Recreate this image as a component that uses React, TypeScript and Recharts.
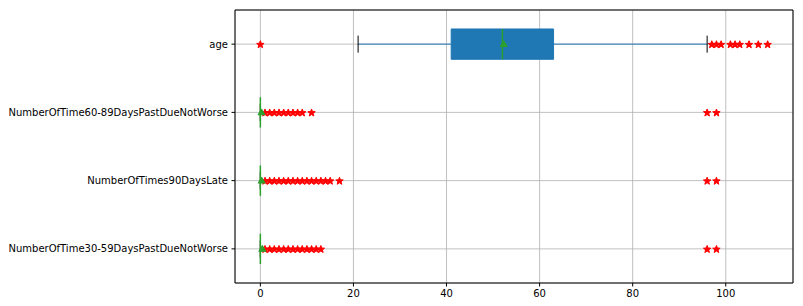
import React from "react";
import {
  ScatterChart,
  Scatter,
  XAxis,
  YAxis,
  CartesianGrid,
  ReferenceArea,
  ReferenceLine,
} from "recharts";

// bottom to top, matching the boxplot positions 1..4
const features = [
  "NumberOfTime30-59DaysPastDueNotWorse",
  "NumberOfTimes90DaysLate",
  "NumberOfTime60-89DaysPastDueNotWorse",
  "age",
];
const positions = [1, 2, 3, 4];

const q1 = [0, 0, 0, 41];
const medians = [0, 0, 0, 52];
const q3 = [0, 0, 0, 63];
const whiskerLow = [0, 0, 0, 21];
const whiskerHigh = [0, 0, 0, 96];
const means = [0.42, 0.27, 0.24, 52.3];

const outliers30to59 = [1, 2, 3, 4, 5, 6, 7, 8, 9, 10, 11, 12, 13, 96, 98];
const outliers90Late = [1, 2, 3, 4, 5, 6, 7, 8, 9, 10, 11, 12, 13, 14, 15, 17, 96, 98];
const outliers60to89 = [1, 2, 3, 4, 5, 6, 7, 8, 9, 11, 96, 98];
const outliersAge = [0, 97, 98, 99, 101, 102, 103, 105, 107, 109];
const outliers = [outliers30to59, outliers90Late, outliers60to89, outliersAge];

const xTicks = [0, 20, 40, 60, 80, 100];

const BLUE = "#1f77b4";
const GREEN = "#2ca02c";
const FONT = "DejaVu Sans";

const BOX_HALF = 0.222;
const CAP_HALF = 0.125;

const outlierPoints = outliers.flatMap((vals, i) =>
  vals.map((v) => ({ x: v, y: positions[i] }))
);
const meanPoints = means.map((m, i) => ({ x: m, y: positions[i] }));

const StarMarker = (props: any) => {
  const { cx, cy } = props;
  const outer = 3.9;
  const inner = outer * 0.42;
  const pts: string[] = [];
  for (let k = 0; k < 10; k++) {
    const r = k % 2 === 0 ? outer : inner;
    const a = -Math.PI / 2 + (k * Math.PI) / 5;
    pts.push(`${cx + r * Math.cos(a)},${cy + 0.5 + r * Math.sin(a)}`);
  }
  return <polygon points={pts.join(" ")} fill="red" stroke="red" strokeWidth={1} strokeLinejoin="round" />;
};

const TriangleMarker = (props: any) => {
  const { cx, cy } = props;
  const r = 3.5;
  return (
    <polygon
      points={`${cx},${cy - r} ${cx - r},${cy + r * 0.7} ${cx + r},${cy + r * 0.7}`}
      fill={GREEN}
      stroke={GREEN}
      strokeWidth={1}
    />
  );
};

export default function App() {
  return (
    <div style={{ position: "absolute", left: 0, top: 0 }}>
      <ScatterChart
        width={803}
        height={306}
        margin={{ top: 10, right: 10, bottom: 3, left: 0 }}
        style={{ fontFamily: FONT }}
      >
        <CartesianGrid stroke="#b0b0b0" strokeWidth={0.8} />
        <XAxis
          type="number"
          dataKey="x"
          domain={[-5.45, 114.45]}
          ticks={xTicks}
          allowDataOverflow
          height={20}
          tickSize={3.5}
          tickMargin={3}
          stroke="#000"
          tick={{ fill: "#000", fontSize: 10, fontFamily: FONT }}
        />
        <YAxis
          type="number"
          dataKey="y"
          domain={[0.5, 4.5]}
          ticks={positions}
          allowDataOverflow
          width={235}
          tickSize={3.5}
          tickMargin={3.5}
          stroke="#000"
          tickFormatter={(v: number) => features[v - 1] ?? ""}
          tick={{ fill: "#000", fontSize: 10, fontFamily: FONT }}
        />
        <ReferenceLine y={4.5} stroke="#000" strokeWidth={1} />
        <ReferenceLine x={114.45} stroke="#000" strokeWidth={1} />

        {positions.map((p, i) => (
          <ReferenceLine
            key={`wl${i}`}
            segment={[
              { x: whiskerLow[i], y: p },
              { x: q1[i], y: p },
            ]}
            stroke={BLUE}
            strokeWidth={1}
          />
        ))}
        {positions.map((p, i) => (
          <ReferenceLine
            key={`wh${i}`}
            segment={[
              { x: q3[i], y: p },
              { x: whiskerHigh[i], y: p },
            ]}
            stroke={BLUE}
            strokeWidth={1}
          />
        ))}
        {positions.map((p, i) => (
          <ReferenceArea
            key={`box${i}`}
            x1={q1[i]}
            x2={q3[i]}
            y1={p - BOX_HALF}
            y2={p + BOX_HALF}
            fill={BLUE}
            fillOpacity={1}
            stroke={BLUE}
            strokeWidth={1}
          />
        ))}
        {positions.map((p, i) => (
          <ReferenceLine
            key={`cl${i}`}
            segment={[
              { x: whiskerLow[i], y: p - CAP_HALF },
              { x: whiskerLow[i], y: p + CAP_HALF },
            ]}
            stroke="#000"
            strokeWidth={1}
          />
        ))}
        {positions.map((p, i) => (
          <ReferenceLine
            key={`ch${i}`}
            segment={[
              { x: whiskerHigh[i], y: p - CAP_HALF },
              { x: whiskerHigh[i], y: p + CAP_HALF },
            ]}
            stroke="#000"
            strokeWidth={1}
          />
        ))}
        {positions.map((p, i) => (
          <ReferenceLine
            key={`med${i}`}
            segment={[
              { x: medians[i], y: p - BOX_HALF },
              { x: medians[i], y: p + BOX_HALF },
            ]}
            stroke={GREEN}
            strokeWidth={1.5}
          />
        ))}

        <Scatter data={outlierPoints} shape={StarMarker} isAnimationActive={false} />
        <Scatter data={meanPoints} shape={TriangleMarker} isAnimationActive={false} />
      </ScatterChart>
    </div>
  );
}
